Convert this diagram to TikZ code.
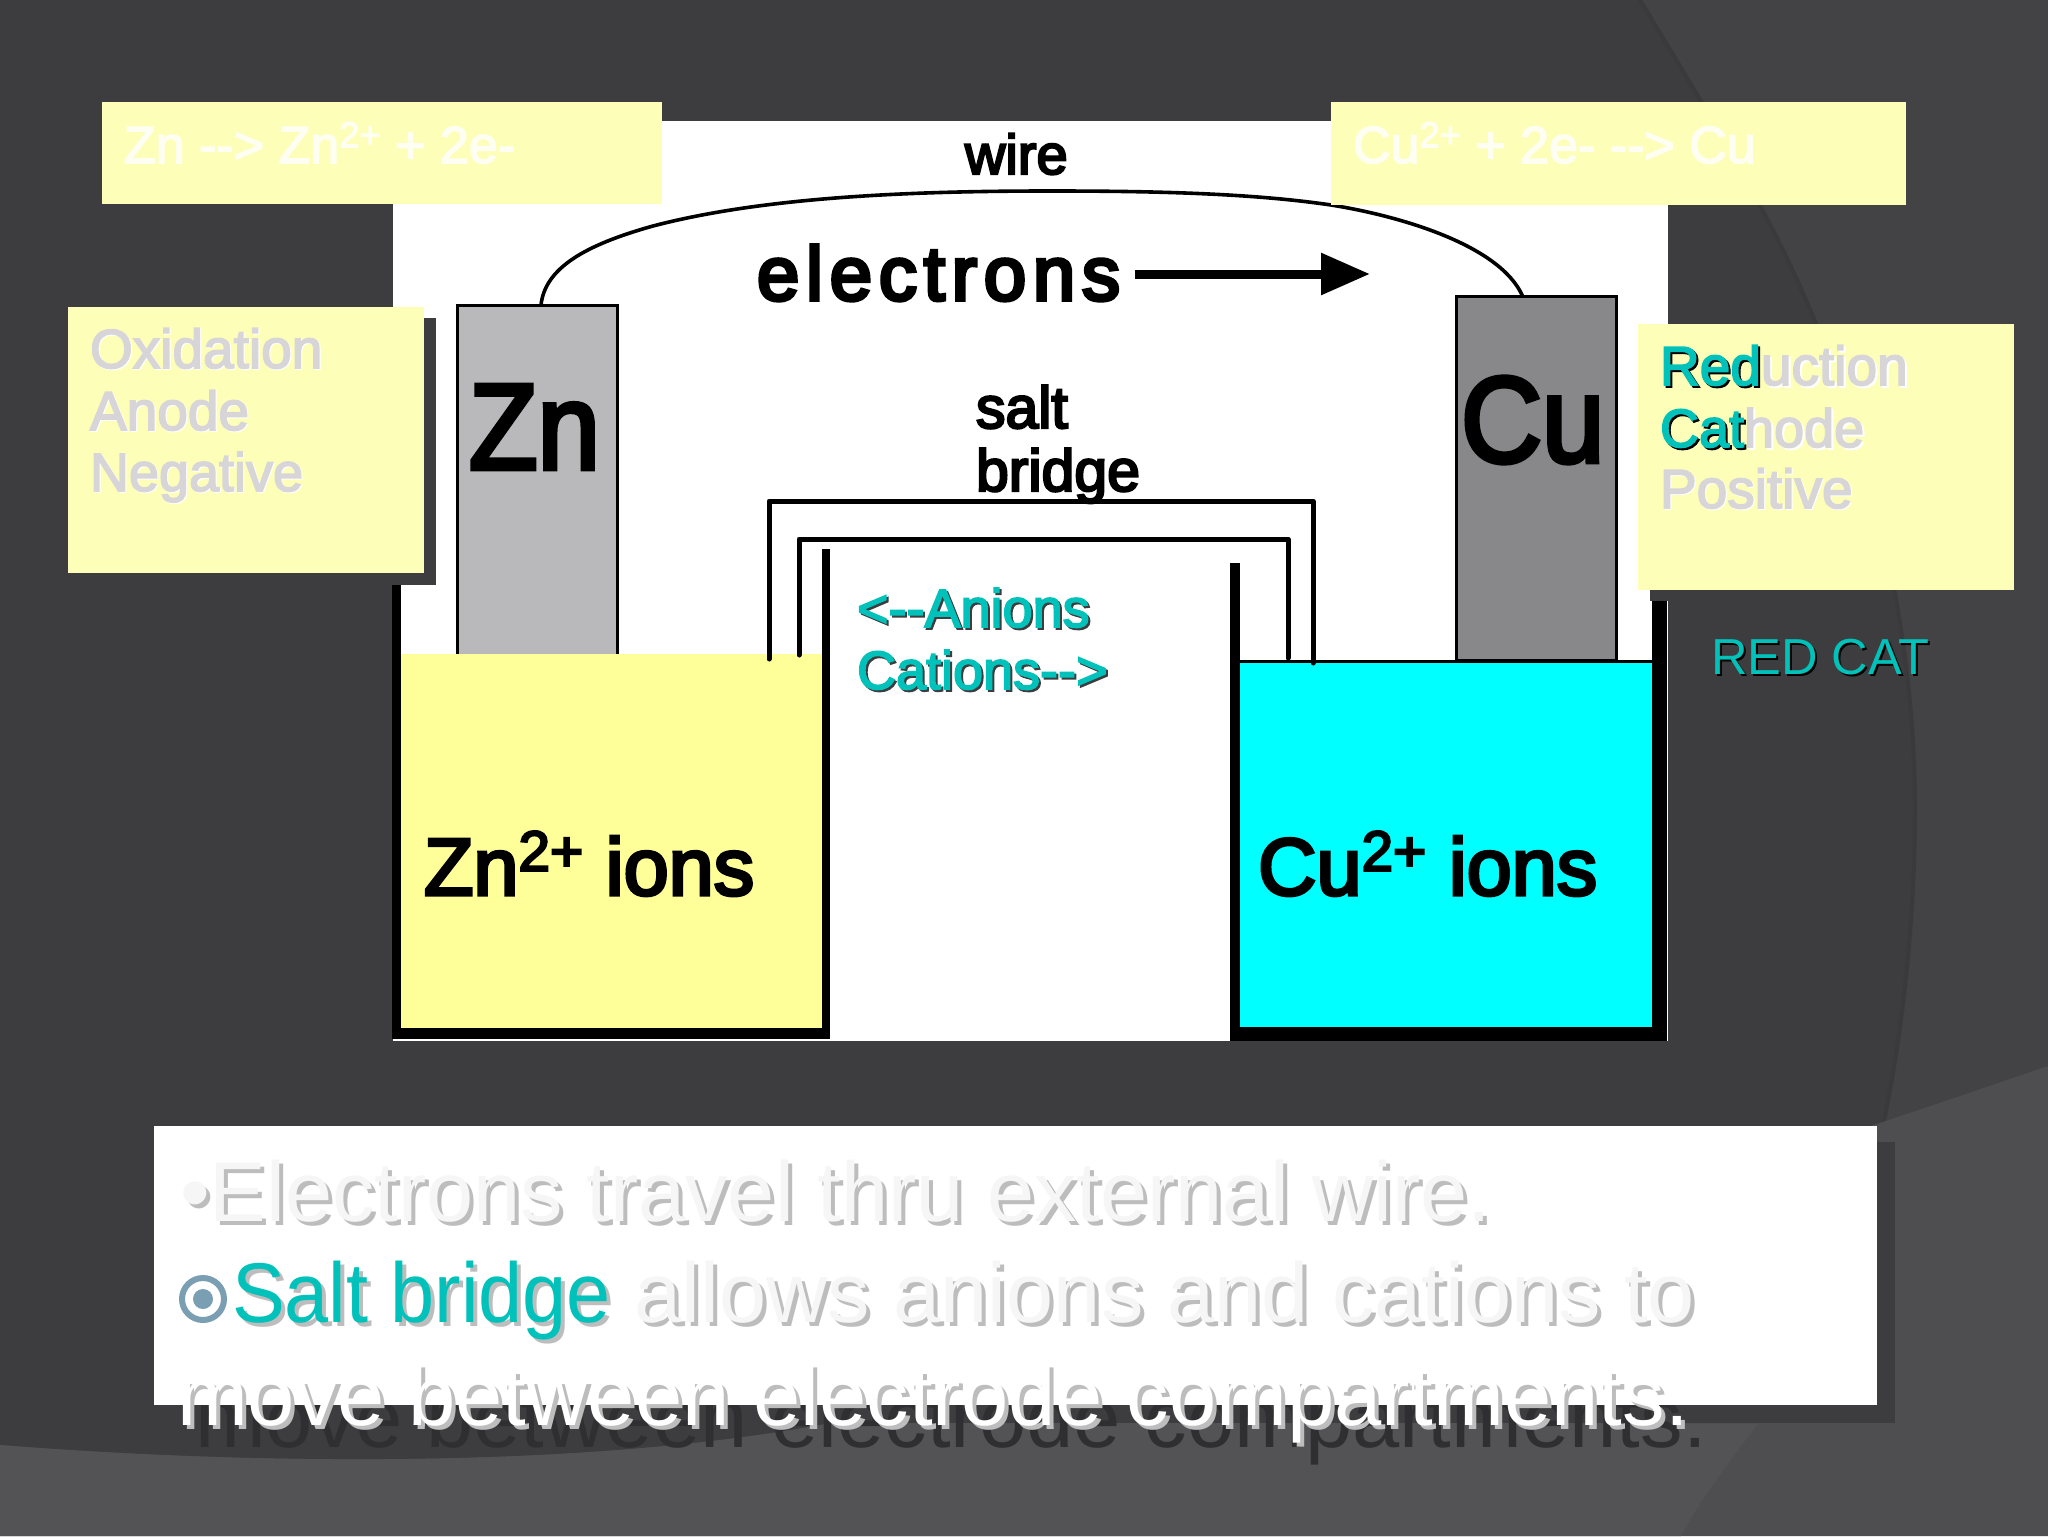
\documentclass[tikz,border=0pt]{standalone}
\usepackage{fontspec}
\usetikzlibrary{arrows.meta}
\setmainfont{Liberation Sans}
\newfontfamily\fat[FakeBold=4]{Liberation Sans}
\newfontfamily\fatsm[FakeBold=3]{Liberation Sans}
\newfontfamily\fatsp[FakeBold=5,LetterSpace=9]{Liberation Sans}
\newcommand\Fz[1]{\fontsize{#1}{#1}\selectfont}
\newcommand\Sp[1]{\raisebox{.3em}{\scalebox{.7}{#1}}}
\newif\ifShadow
\newcommand\Part[3]{\ifShadow\textcolor{#2}{#3}\else\textcolor{#1}{#3}\fi}
\definecolor{bgbase}{HTML}{3D3C3E}
\definecolor{bgright}{HTML}{434244}
\definecolor{bgedge}{HTML}{3A393B}
\definecolor{bglow}{HTML}{4E4D4F}
\definecolor{bglower}{HTML}{535254}
\definecolor{ghostc}{HTML}{2F2E30}
\definecolor{note}{HTML}{FDFFB9}
\definecolor{sol}{HTML}{FFFF99}
\definecolor{aqua}{HTML}{00FFFF}
\definecolor{tealx}{HTML}{00C2BA}
\definecolor{greyt}{HTML}{D8D5D8}
\definecolor{whitish}{HTML}{FEFEF2}
\definecolor{soft}{HTML}{F6F6F6}
\definecolor{softsh}{HTML}{BDBDBD}
\definecolor{znm}{HTML}{B9B8BA}
\definecolor{cum}{HTML}{888789}
\definecolor{ringc}{HTML}{7A9EB2}
\tikzset{
  x=0.5pt,y=-0.5pt,
  lbl/.style={inner sep=0pt,outer sep=0pt,anchor=base west,align=left},
  electrode/.style={draw=black,line width=1.5pt,fill=#1,inner sep=0pt,outer sep=0pt,minimum width=80pt},
  solution/.style={fill=#1,draw=none,inner sep=0pt,outer sep=0pt},
  wall/.style={fill=black,draw=none},
  bridgeline/.style={draw=black,line width=2.5pt,line cap=round,line join=round},
}
% name, x, y, shadow offset, shadow colour, text colour, text
\newcommand\Sh[7]{%
  \node[lbl,text=#5] at ({#2+#4},{#3+#4}) {\Shadowtrue #7};
  \node[lbl,text=#6] (#1) at (#2,#3) {\Shadowfalse #7};
}
\begin{document}
\begin{tikzpicture}
\useasboundingbox (0,0) rectangle (2048,1536);
% background
\fill[bgbase] (0,0) rectangle (2048,1536);
\fill[bgright] (1640,0) .. controls (1700,100) and (1770,210) .. (1816,324)
  .. controls (1880,480) and (1915,650) .. (1915,809)
  .. controls (1915,930) and (1900,1050) .. (1880,1140) -- (2048,1066) -- (2048,0) -- cycle;
\draw[bgedge,line width=2pt] (1640,0) .. controls (1700,100) and (1770,210) .. (1816,324)
  .. controls (1880,480) and (1915,650) .. (1915,809)
  .. controls (1915,930) and (1900,1050) .. (1880,1140);
\fill[bglow] (0,1445) .. controls (250,1465) and (600,1470) .. (846,1420)
  .. controls (1200,1340) and (1600,1220) .. (2048,1066) -- (2048,1536) -- (0,1536) -- cycle;
\fill[bglower] (0,1445) .. controls (250,1465) and (600,1470) .. (846,1420) -- (1758,1424) .. controls (1730,1460) and (1700,1500) .. (1681,1536) -- (0,1536) -- cycle;
% white diagram panel
\fill[white] (393,121) rectangle (1668,1041);
% shadow of text box
\fill[bgbase] (172,1142) rectangle (1895,1423);
\node[lbl,text=ghostc] (ghost) at (195,1447) {\Fz{42.5}move between electrode compartments.};
% text box
\fill[white] (154,1126) rectangle (1877,1405);
% electrodes and solutions
\node[electrode=znm,minimum height=175pt,anchor=north] (zn) at (537,305) {};
\node[electrode=cum,minimum height=182pt,anchor=north] (cu) at (1536.5,296) {};
\node[solution=sol,minimum width=210.5pt,minimum height=187pt,anchor=north west] (znsol) at (401,654) {};
\node[solution=aqua,minimum width=206pt,minimum height=182pt,anchor=north west] (cusol) at (1240,663) {};
% beaker walls
\fill[wall] (392,585) rectangle (401,1039);
\fill[wall] (392,1028) rectangle (830,1039);
\fill[wall] (822,549) rectangle (830,1039);
\fill[wall] (1230,563) rectangle (1240,1041);
\fill[wall] (1230,1027) rectangle (1667,1041);
\fill[wall] (1652,601) rectangle (1667,1041);
\draw[line width=1.5pt] (1240,661.5) -- (1652,661.5);
\node[lbl] (zntxt) at (469,469) {\scalebox{.92}[1]{\fat\Fz{61}Zn}};
\node[lbl] (cutxt) at (1461,462) {\scalebox{.92}[1]{\fat\Fz{61}Cu}};
% wire
\draw[line width=1.8pt] ([xshift=2pt]zn.north) .. controls (545,268) and (585,245) .. (653,226)
  .. controls (760,198) and (900,191) .. (1050,191)
  .. controls (1150,191) and (1250,193) .. (1331,205)
  .. controls (1400,216) and (1500,245) .. ([xshift=-7pt]cu.north);
\node[lbl] (wire) at (965,174) {\fat\Fz{28}wire};
% electrons arrow
\node[lbl] (electrons) at (757,300) {\fatsp\Fz{38}electrons};
\coordinate (arrowend) at (1370,274);
\coordinate (arrowstart) at (1135,274);
\draw[line width=4.5pt,-{Triangle[length=24.5pt,width=20pt]}] (arrowstart) -- (arrowend);
% salt bridge
\node[lbl,align=left] (salt) at (976,428) {\fat\Fz{29.5}salt};
\node[lbl,align=left] (bridge) at (976,491) {\fat\Fz{29.5}bridge};
\coordinate (oa) at (769,659); \coordinate (ob) at (769,501); \coordinate (oc) at (1313,501); \coordinate (od) at (1313,663);
\coordinate (ia) at (799,655); \coordinate (ib) at (799,539); \coordinate (ic) at (1288,539); \coordinate (id) at (1288,658);
\draw[bridgeline] (oa) -- (ob) -- (oc) -- (od);
\draw[bridgeline] (ia) -- (ib) -- (ic) -- (id);
% ion labels
\node[lbl] (znions) at (424,895) {\fat\Fz{40.5}Zn\Sp{2+} ions};
\node[lbl] (cuions) at (1258,895) {\fat\Fz{40.5}Cu\Sp{2+} ions};
\Sh{anions}{857}{627}{2}{bgbase}{tealx}{\fatsm\Fz{27}<-{}-Anions}
\Sh{cations}{857}{689}{2}{bgbase}{tealx}{\fatsm\Fz{27}Cations-{}->}
% shadows of notes
\fill[bgbase] (393,318) rectangle (436,585);
\fill[bgbase] (1650,590) rectangle (1668,601);
% notes
\fill[note] (102,102) rectangle (662,204);
\fill[note] (1331,102) rectangle (1906,205);
\fill[note] (68,307) rectangle (424,573);
\fill[note] (1638,324) rectangle (2014,590);
\node[lbl,text=whitish] (zneq) at (124,163) {\fatsm\Fz{26}Zn -{}-> Zn\Sp{2+} + 2e-};
\node[lbl,text=whitish] (cueq) at (1353,163) {\fatsm\Fz{26}Cu\Sp{2+} + 2e- -{}-> Cu};
\Sh{ox}{90}{368}{1}{white}{greyt}{\fatsm\Fz{27.5}Oxidation}
\Sh{an}{90}{430}{1}{white}{greyt}{\fatsm\Fz{27.5}Anode}
\Sh{neg}{90}{491}{1}{white}{greyt}{\fatsm\Fz{27}Negative}
\Sh{red}{1660}{385}{2}{}{}{\fatsm\Fz{27.5}\Part{tealx}{black}{Red}\Part{greyt}{white}{uction}}
\Sh{cat}{1660}{447}{2}{}{}{\fatsm\Fz{27}\Part{tealx}{black}{Cat}\Part{greyt}{white}{hode}}
\Sh{pos}{1660}{508}{1}{white}{greyt}{\fatsm\Fz{27.5}Positive}
\Sh{redcat}{1711}{674}{2}{black}{tealx}{\Fz{25.3}RED CAT}
% text box lines
\Sh{line1}{180}{1221}{4}{softsh}{soft}{\Fz{42.4}•Electrons travel thru external wire.}
\Sh{line2}{232}{1322}{4}{softsh}{}{\Fz{42.4}\Part{tealx}{softsh}{\scalebox{.935}[1]{Salt bridge}} \Part{soft}{softsh}{allows anions and cations to}}
\Sh{line3}{177}{1425}{4}{softsh}{white}{\Fz{42.5}move between electrode compartments.}
% bullet
\node[circle,draw=ringc,line width=3pt,fill=white,minimum size=21pt,inner sep=0pt] (ring) at (203,1299) {};
\node[circle,fill=ringc,minimum size=10pt,inner sep=0pt] (dot) at (ring.center) {};
\end{tikzpicture}
\end{document}
